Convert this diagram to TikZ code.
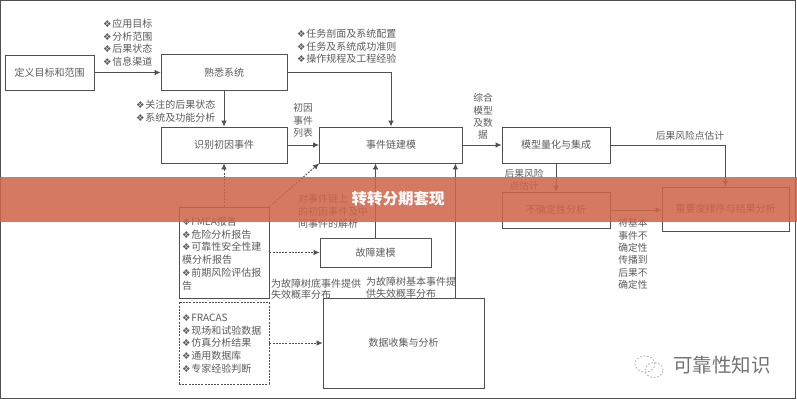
\documentclass[tikz,border=0pt]{standalone}
\usepackage{fontspec}
\setmainfont{Noto Sans CJK SC}
\newfontfamily\bulfont{DejaVu Sans}
\usetikzlibrary{arrows.meta}
\newcommand{\bu}{{\bulfont\fontsize{9.5}{8}\selectfont ❖}\hspace{0.6pt}}
\definecolor{ink}{HTML}{505050}
\definecolor{txt}{HTML}{5C5C5C}
\tikzset{
  box/.style={draw=ink,line width=.85pt,fill=white,inner sep=0pt,text=txt,font=\fontsize{10}{12}\selectfont},
  dashbox/.style={box,dash pattern=on 2pt off 1.2pt},
  lbl/.style={inner sep=0pt,text=txt,align=left,anchor=north west,yshift=-3pt,font=\fontsize{10}{12.9}\selectfont},
  clbl/.style={inner sep=0pt,text=txt,align=center,yshift=-1pt,font=\fontsize{9.75}{12.4}\selectfont},
  conn/.style={draw=ink,line width=.85pt,-{Latex[length=6pt,width=5.5pt]}},
  dconn/.style={conn,dash pattern=on 2pt off 1.2pt},
}
\begin{document}
\begin{tikzpicture}[x=1pt,y=-1pt]
\useasboundingbox (0,0) rectangle (797,400);
\fill[white] (0,0) rectangle (797,400);
\draw[draw=ink,line width=1.1pt] (0.5,0.5) rectangle (795.5,398.5);
% boxes
\newcommand{\bx}[6][box]{\node[#1,minimum width=#4pt,minimum height=#5pt] (#2) at (#3) {#6};}
\bx{def}{49.5,72.5}{89}{35}{定义目标和范围}
\bx{shu}{224,72.5}{126}{36}{熟悉系统}
\bx{shi}{224,145}{126}{36}{识别初因事件}
\bx{sj}{391,145}{143}{36}{事件链建模}
\bx{lh}{556,145}{108}{36}{模型量化与集成}
\bx{bq}{556,210}{108}{36}{不确定性分析}
\bx{zy}{725.5,209}{127}{44}{重要度排序与结果分析}
\bx{gz}{375.5,252.5}{111}{29}{故障建模}
\bx{data}{403.5,343}{161}{90}{数据收集与分析}
\bx{fmea}{224,252.5}{90}{91}{}
\bx[dashbox]{fr}{224,343}{90}{82}{}
% connectors
\draw[conn] (def.east) -- (shu.west);
\draw[conn] (shu.south) -- (shi.north);
\draw[conn] (shu.east) -| (sj.north);
\draw[conn] (shi.east) -- (sj.west);
\draw[dconn] (fmea.north) -- (shi.south);
\draw[dconn] (fmea.north east) -- (sj.south west);
\draw[conn] (gz.north) -- (gz.north |- sj.south);
\coordinate (dt) at ([xshift=-29pt]data.north east);
\draw[conn] (dt) -- (dt |- sj.south);
\draw[conn] (sj.east) -- (lh.west);
\draw[conn] (lh.south) -- (bq.north);
\draw[conn] (lh.east) -| (zy.north);
\draw[conn] (bq.east) -- (bq.east -| zy.west);
\draw[dconn] (fmea.east |- gz.west) -- (gz.west);
\draw[dconn] (fr.east) -- (fr.east -| data.west);
% labels
\node[lbl] (l1) at (103,15.5) {\bu 应用目标\\\bu 分析范围\\\bu 后果状态\\\bu 信息渠道};
\node[lbl] (l2) at (297,25.5) {\bu 任务剖面及系统配置\\\bu 任务及系统成功准则\\\bu 操作规程及工程经验};
\node[lbl] (l3) at (136,96.5) {\bu 关注的后果状态\\\bu 系统及功能分析};
\node[clbl] (l4) at (303,119.5) {初因\\事件\\列表};
\node[clbl] (l5) at (483,115.5) {综合\\模型\\及数\\据};
\node[clbl] (l6) at (690,135) {后果风险点估计};
\node[clbl] (l7) at (524,178.5) {后果风险\\点估计};
\node[clbl] (l8) at (633,253) {将基本\\事件不\\确定性\\传播到\\后果不\\确定性};
\node[lbl] (l9) at (298,190.5) {对事件链上\\的初因事件及中\\间事件的解析};
\node[lbl] (l10) at (271,275.5) {为故障树底事件提供\\[-2pt]失效概率分布};
\node[lbl] (l11) at (366,273.5) {为故障树基本事件提\\[-1pt]供失效概率分布};
\node[lbl] (l12) at (182,213.5) {\bu FMEA报告\\\bu 危险分析报告\\\bu 可靠性安全性建\\模分析报告\\\bu 前期风险评估报\\告};
\node[lbl] (l13) at (182,310.5) {\bu FRACAS\\\bu 现场和试验数据\\\bu 仿真分析结果\\\bu 通用数据库\\\bu 专家经验判断};
% logo watermark
\draw[gray!70,line width=.8pt,dash pattern=on 1.5pt off 2pt] (645,364) ellipse (10pt and 8pt);
\draw[gray!70,line width=.8pt,dash pattern=on 1.5pt off 2pt] (654,370) ellipse (9pt and 7.5pt);
\node[inner sep=0pt,text=black!55,font=\fontsize{19.5}{19}\selectfont] (wm) at (722,365) {可靠性知识};
% banner
\fill[fill={rgb,255:red,208;green,100;blue,74},fill opacity=.86] (0,177) rectangle (797,222);
\node[inner sep=0pt,text=white,font=\fontsize{15.5}{16}\selectfont\bfseries] (ban) at (398,199) {转转分期套现};
\end{tikzpicture}
\end{document}
